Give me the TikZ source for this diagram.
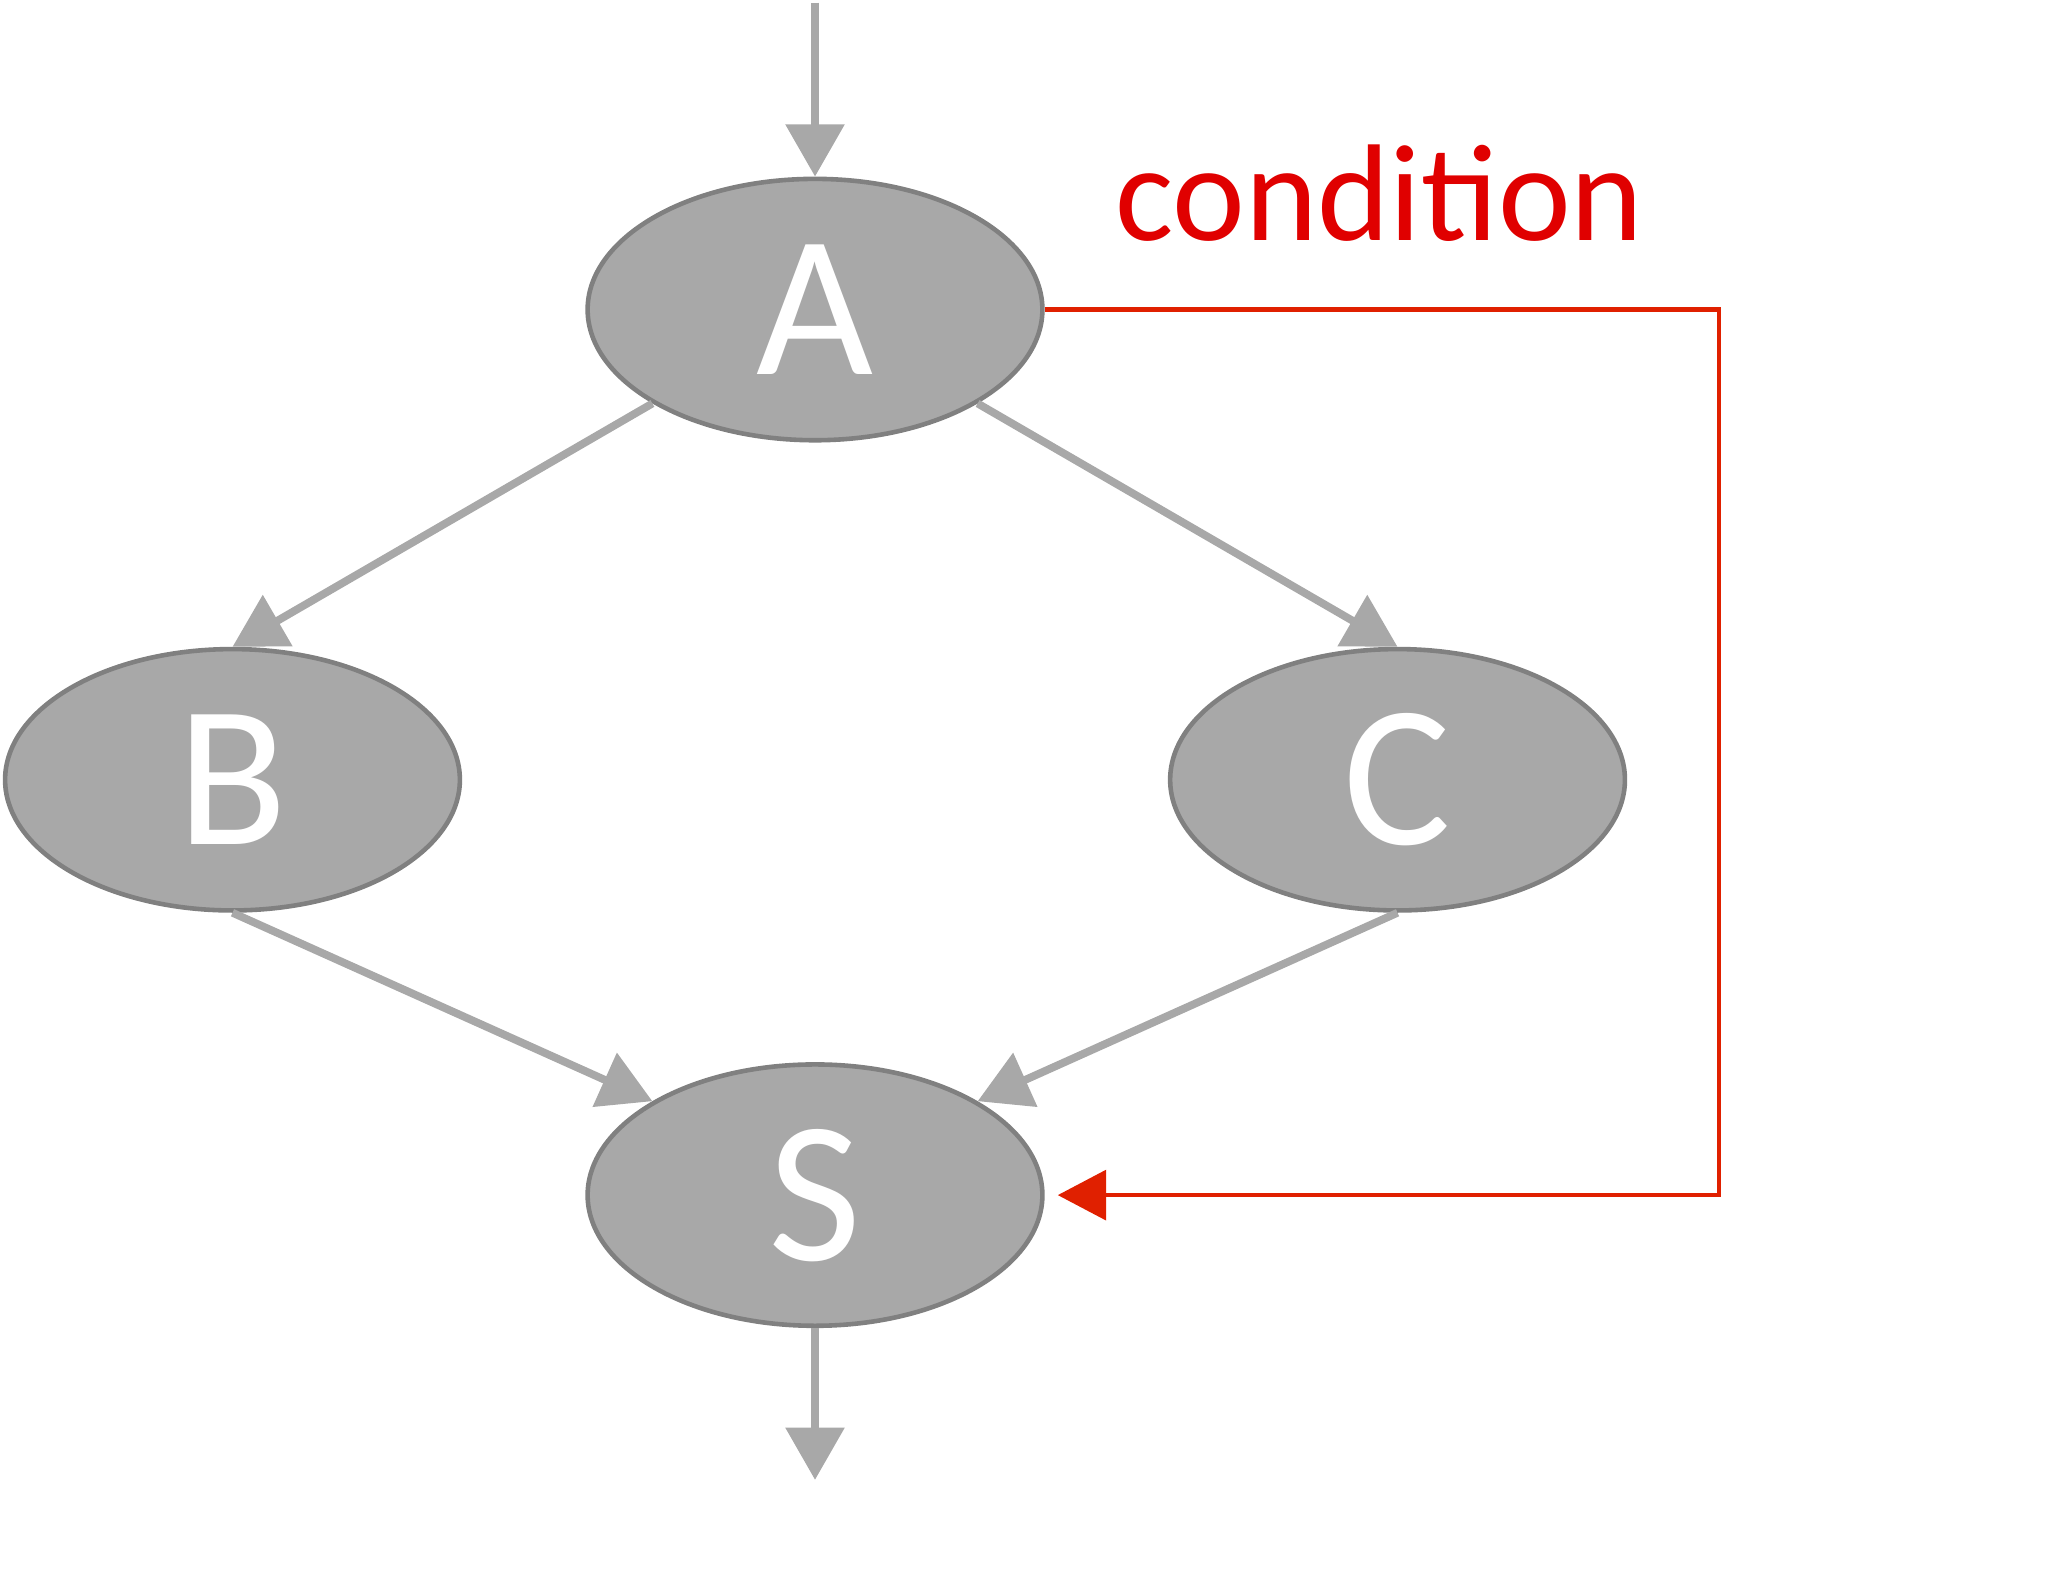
\documentclass[tikz,border=0pt]{standalone}
\usepackage{fontspec}
\setmainfont{Carlito}
\usetikzlibrary{shapes.geometric,arrows.meta}
\definecolor{nodegray}{HTML}{A8A8A8}
\definecolor{edgegray}{HTML}{808080}
\definecolor{cred}{HTML}{E02000}
\definecolor{tred}{HTML}{E00000}
\begin{document}
\begin{tikzpicture}[x=0.01cm,y=-0.01cm,
  st/.style={ellipse,draw=edgegray,line width=1pt,fill=nodegray,minimum width=3.48cm,minimum height=2cm,inner sep=0pt,text=white,font=\fontsize{44}{44}\selectfont},
  ga/.style={draw=nodegray,line width=1.7pt,-{Triangle[length=0.4cm,width=0.44cm]}},
  ra/.style={draw=cred,line width=1pt,-{Triangle[length=0.37cm,width=0.38cm]}}]
\useasboundingbox (0,0) rectangle (1568,1208);
\node[st] (A) at (624,237) {A};
\node[st] (B) at (178,597) {B};
\node[st] (C) at (1070,597) {C};
\node[st] (S) at (624,915) {S};
\coordinate (top) at (624,2);
\coordinate (bot) at (624,1133);
\coordinate (corner1) at (1316,237);
\coordinate (corner2) at (1316,915);
\node[text=tred,font=\fontsize{30}{30}\selectfont] (cond) at (1056,148) {condition};
\draw[ga] (top) -- (A.north);
\draw[ga] (A.210) -- (B.north);
\draw[ga] (A.330) -- (C.north);
\draw[ga] (B.south) -- (S.150);
\draw[ga] (C.south) -- (S.30);
\draw[ga] (S.south) -- (bot);
\draw[ra,shorten >=0.1cm] (A.east) -- (corner1) -- (corner2) -- (S.east);
\end{tikzpicture}
\end{document}
